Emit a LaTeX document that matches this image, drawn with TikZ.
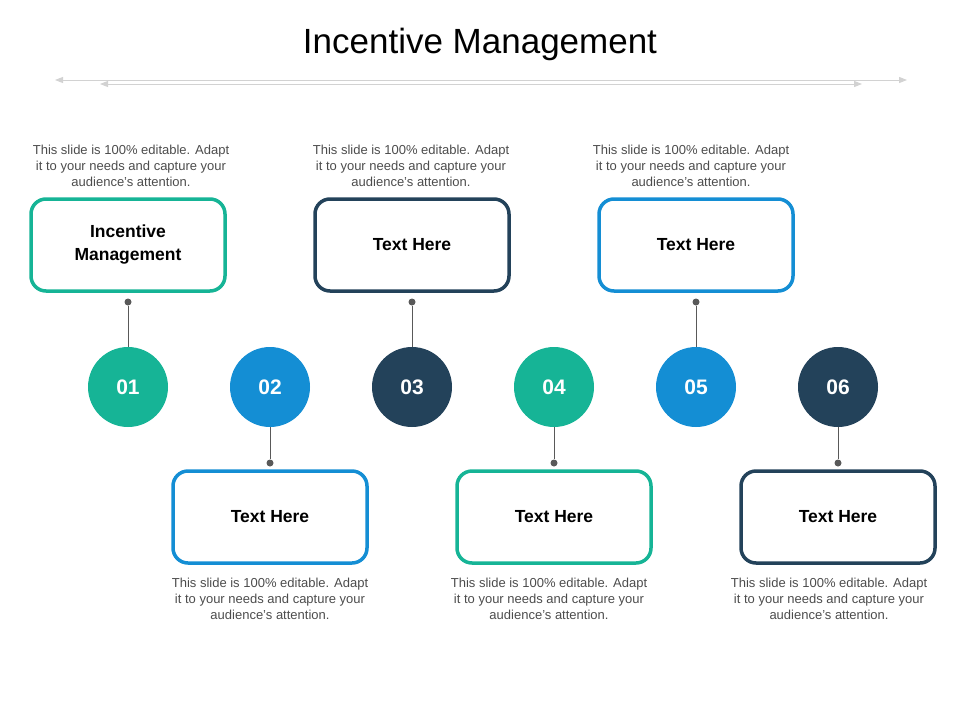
\documentclass[tikz,border=0pt]{standalone}
\usepackage{fontspec}
\setmainfont{Liberation Sans}
\usetikzlibrary{positioning,arrows.meta}
\definecolor{teal1}{RGB}{22,180,150}
\definecolor{blue1}{RGB}{20,142,212}
\definecolor{navy1}{RGB}{35,66,90}
\begin{document}
\begin{tikzpicture}[x=1pt,y=-1pt]
\tikzstyle{custbox} = [rounded corners=15pt, minimum width=194pt, minimum height=92pt, line width=3.5pt, align=center, font=\bfseries\fontsize{17.5}{23}\selectfont, fill=white]
\tikzstyle{custnum} = [circle, minimum size=80pt, inner sep=0pt, text=white, font=\bfseries\fontsize{21}{24}\selectfont]
\tikzstyle{custdot} = [circle, fill=gray!70!black, minimum size=7pt, inner sep=0pt]
\tikzstyle{custtxt} = [align=center, text=gray!60!black, font=\fontsize{13}{16}\selectfont]
\useasboundingbox (0,0) rectangle (960,720);

\node (title) at (480,44) {\fontsize{35}{40}\selectfont Incentive Management};
\coordinate (la) at (55,80); \coordinate (ra) at (907,80);
\coordinate (lb) at (100,84); \coordinate (rb) at (862,84);
\draw[gray!35, line width=1pt, {Triangle[width=6pt,length=8pt]}-{Triangle[width=6pt,length=8pt]}] (la) -- (ra);
\draw[gray!35, line width=1pt, {Triangle[width=6pt,length=8pt]}-{Triangle[width=6pt,length=8pt]}] (lb) -- (rb);

\node (c1) at (128,387) [custnum, fill=teal1]{01};
\node (c2) at (270,387) [custnum, fill=blue1]{02};
\node (c3) at (412,387) [custnum, fill=navy1]{03};
\node (c4) at (554,387) [custnum, fill=teal1]{04};
\node (c5) at (696,387) [custnum, fill=blue1]{05};
\node (c6) at (838,387) [custnum, fill=navy1]{06};

\node (b1) at (128,245) [custbox, draw=teal1]{Incentive\\Management};
\node (b3) at (412,245) [custbox, draw=navy1]{Text Here};
\node (b5) at (696,245) [custbox, draw=blue1]{Text Here};
\node (b2) at (270,517) [custbox, draw=blue1]{Text Here};
\node (b4) at (554,517) [custbox, draw=teal1]{Text Here};
\node (b6) at (838,517) [custbox, draw=navy1]{Text Here};

\node (d1) at (128,302) [custdot]{};
\node (d3) at (412,302) [custdot]{};
\node (d5) at (696,302) [custdot]{};
\node (d2) at (270,463) [custdot]{};
\node (d4) at (554,463) [custdot]{};
\node (d6) at (838,463) [custdot]{};

\node (t1) at (131,166) [custtxt]{This slide is 100\% editable. Adapt\\it to your needs and capture your\\audience's attention.};
\node (t3) at (411,166) [custtxt]{This slide is 100\% editable. Adapt\\it to your needs and capture your\\audience's attention.};
\node (t5) at (691,166) [custtxt]{This slide is 100\% editable. Adapt\\it to your needs and capture your\\audience's attention.};
\node (t2) at (270,599) [custtxt]{This slide is 100\% editable. Adapt\\it to your needs and capture your\\audience's attention.};
\node (t4) at (549,599) [custtxt]{This slide is 100\% editable. Adapt\\it to your needs and capture your\\audience's attention.};
\node (t6) at (829,599) [custtxt]{This slide is 100\% editable. Adapt\\it to your needs and capture your\\audience's attention.};

%stems
\draw[gray!70!black, line width=0.8pt] (d1) -- (c1);
\draw[gray!70!black, line width=0.8pt] (d3) -- (c3);
\draw[gray!70!black, line width=0.8pt] (d5) -- (c5);
\draw[gray!70!black, line width=0.8pt] (c2) -- (d2);
\draw[gray!70!black, line width=0.8pt] (c4) -- (d4);
\draw[gray!70!black, line width=0.8pt] (c6) -- (d6);
\end{tikzpicture}
\end{document}
